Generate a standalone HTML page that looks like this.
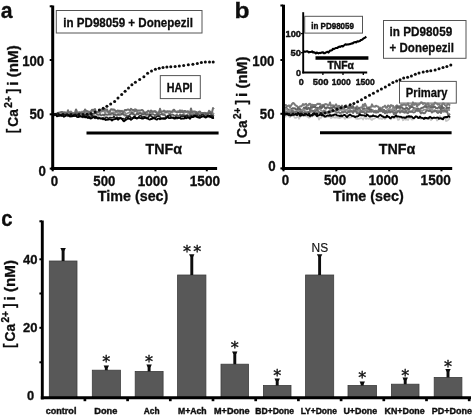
<!DOCTYPE html>
<html><head><meta charset="utf-8"><title>Figure</title>
<style>
html,body{margin:0;padding:0;background:#fff;}
svg{display:block;}
text{font-family:"Liberation Sans","DejaVu Sans",sans-serif;font-weight:bold;fill:#0c0c0c;stroke:#0c0c0c;stroke-width:0.3;}
.ax{stroke:#000;fill:none;stroke-linecap:butt;}
.box{fill:#fff;stroke:#555;stroke-width:1;}
.bar{fill:#595959;stroke:#3c3c3c;stroke-width:0.8;}
.err{stroke:#0a0a0a;stroke-width:2.9;fill:none;}
.tr{fill:none;stroke-linejoin:round;}
.sm{stroke-width:0.4;}
.ast{font-family:"DejaVu Sans","Liberation Sans",sans-serif;font-weight:normal;stroke-width:0.35;}
</style></head><body>
<svg width="472" height="415" viewBox="0 0 472 415">
<defs><filter id="soft" x="0" y="0" width="472" height="415" filterUnits="userSpaceOnUse"><feGaussianBlur stdDeviation="0.45"/></filter></defs>
<rect width="472" height="415" fill="#fff"/>
<g filter="url(#soft)">
<!-- panel a -->
<text x="0.8" y="17.6" font-size="22" text-anchor="start" textLength="11.8" lengthAdjust="spacingAndGlyphs" >a</text>
<g transform="translate(18,133.2) rotate(-90)"><text x="0" y="0" font-size="17" textLength="4.5" lengthAdjust="spacingAndGlyphs">[</text><text x="6.5" y="0" font-size="15.5" textLength="17.5" lengthAdjust="spacingAndGlyphs">Ca</text><text x="25.5" y="-6" font-size="10.5" textLength="11.5" lengthAdjust="spacingAndGlyphs">2+</text><text x="40" y="0" font-size="17" textLength="4.5" lengthAdjust="spacingAndGlyphs">]</text><text x="47.5" y="0" font-size="15.5" textLength="40.5" lengthAdjust="spacingAndGlyphs">i (nM)</text></g>
<polyline class="tr" stroke="#c2c2c2" stroke-width="1.6" points="53,115.1 54,115.9 55,115 56,113.8 57,113 58,113.5 59,112.9 60,112.2 61,113.3 62,113.8 63,114.4 64,113.5 65,113.8 66,113.9 67,112.7 68,113.9 69,114.3 70,116.4 71,115.5 72,114.7 73,115.6 74,115.1 75,115.5 76,114.6 77,114.6 78,115.4 79,115.5 80,115.1 81,113.8 82,114.5 83,114.6 84,115.2 85,115.1 86,115.8 87,115.2 88,115.1 89,115.5 90,114.2 91,114.1 92,114 93,116.2 94,115.5 95,115.8 96,115.9 97,115.2 98,113.7 99,115.2 100,114.8 101,115.6 102,114.2 103,114.3 104,115.8 105,116.7 106,114.8 107,113.8 108,114.5 109,115.5 110,115.5 111,115.6 112,114.6 113,115.4 114,116.3 115,115.4 116,114.1 117,114 118,115.3 119,113.8 120,114.5 121,114 122,114.6 123,114.7 124,115 125,116.5 126,116.3 127,117 128,116.1 129,115.3 130,115.7 131,113 132,114.2 133,114.9 134,114.1 135,115.2 136,114.8 137,113 138,114 139,113.9 140,114.2 141,114.7 142,116.2 143,115.9 144,115.7 145,115.9 146,114.1 147,115.9 148,114.8 149,115.5 150,114.5 151,114.2 152,114.5 153,116.7 154,116.7 155,115.6 156,115.3 157,114.4 158,115 159,114.8 160,115.8 161,114.5 162,114.7 163,114.4 164,114.4 165,115.6 166,115.7 167,116.2 168,116.9 169,117.2 170,115.2 171,115.8 172,114.1 173,114.8 174,116.8 175,116 176,115.4 177,115.6 178,115.5 179,115.5 180,114.8 181,116 182,116.5 183,115.7 184,115.8 185,116.1 186,116.6 187,116.2 188,116.3 189,115.5 190,114.4 191,114.4 192,115.7 193,116.3 194,115.8 195,115 196,115.3 197,116.7 198,117.1 199,115.5 200,115.3 201,113.9 202,113.5 203,114.5 204,114.9 205,115.9 206,116.6 207,116.6 208,117.1 209,115.6 210,114.4 211,115.2 212,117.6 213,116.7 214,114.9"/>
<polyline class="tr" stroke="#8c8c8c" stroke-width="1.7" points="53,114.1 54,115.1 55,113.7 56,114.7 57,114.1 58,113.8 59,115.5 60,114.9 61,114.4 62,114.8 63,115.3 64,114.6 65,114.8 66,113.5 67,113.3 68,113.2 69,112.4 70,111.8 71,111.4 72,112.4 73,112.9 74,113.1 75,113.5 76,112.4 77,113 78,113.6 79,114.3 80,113.2 81,113.1 82,111.5 83,112.1 84,110.9 85,110.9 86,113.1 87,111.3 88,113 89,113.5 90,113.1 91,113.6 92,113.9 93,114.4 94,113.6 95,112.8 96,112.4 97,111.9 98,112.4 99,112 100,113.5 101,111.6 102,111.3 103,111.3 104,110.3 105,113.3 106,111 107,111.7 108,111.8 109,113.8 110,111.6 111,113.2 112,112.4 113,112.5 114,112.1 115,113 116,111.9 117,112.3 118,112.9 119,114.4 120,111.5 121,113.5 122,114 123,112.9 124,113.1 125,112.5 126,114.1 127,113.6 128,113 129,112.6 130,112.5 131,112.5 132,111.8 133,114.1 134,111.7 135,109 136,110.7 137,111.6 138,112.5 139,112.4 140,112.4 141,112.8 142,113.6 143,112.7 144,112.3 145,114.2 146,113.9 147,112.4 148,114.5 149,114.3 150,112.9 151,111.7 152,112.4 153,111.8 154,111.2 155,110.8 156,111.2 157,112.9 158,112.3 159,111.2 160,112.5 161,112.6 162,113.3 163,114 164,113.1 165,112.7 166,112.6 167,111.6 168,112.7 169,113.8 170,113.4 171,112.8 172,112.5 173,111.9 174,111.5 175,111.8 176,111.5 177,111.7 178,110.8 179,112.1 180,112.5 181,111.6 182,110.2 183,111.5 184,113.2 185,112.4 186,112.2 187,112.1 188,113.1 189,112.2 190,113.5 191,113 192,113.8 193,113.4 194,113 195,111.7 196,111.8 197,112.2 198,113.2 199,113.3 200,112.6 201,113.2 202,114 203,113.4 204,112.8 205,112.6 206,113.5 207,113.7 208,112.6 209,113.1 210,112.6 211,112.2 212,113.7 213,114.1 214,112.9"/>
<polyline class="tr" stroke="#6e6e6e" stroke-width="2" points="53,115.6 54,114 55,114.1 56,114 57,114.5 58,112.8 59,112.8 60,112.5 61,112.1 62,112 63,112.3 64,112.6 65,112.2 66,113.2 67,112.8 68,110.3 69,112.9 70,112.8 71,112.4 72,113.1 73,113.4 74,113.3 75,112.5 76,109.5 77,111.7 78,113.6 79,112.2 80,112.3 81,112.6 82,112.9 83,112.5 84,113 85,109.5 86,110.7 87,111.2 88,111.2 89,112.9 90,111.5 91,111.5 92,109.7 93,110.9 94,109.7 95,109.1 96,112.3 97,112.4 98,111.8 99,111.6 100,110 101,109.6 102,110.7 103,108.9 104,110.2 105,109 106,110 107,109.4 108,111.7 109,112.1 110,111 111,109.2 112,109.3 113,109.9 114,109.4 115,110.3 116,111.4 117,111 118,110.4 119,111.3 120,110.7 121,111.4 122,110.8 123,112.1 124,111.1 125,109.9 126,110.4 127,109.9 128,109.4 129,109.9 130,110.9 131,108.8 132,109.7 133,110 134,110.1 135,111.1 136,109.6 137,110.7 138,110.4 139,110.6 140,110.4 141,110.2 142,109.9 143,110.6 144,112.4 145,112.4 146,112.2 147,111.9 148,110.8 149,111.2 150,112.7 151,110.5 152,111.2 153,111.8 154,111.4 155,111.7 156,112.3 157,113.4 158,113.2 159,113.3 160,108.8 161,112.2 162,111.5 163,111.3 164,110.6 165,111.2 166,112.2 167,111.3 168,111.3 169,111.6 170,111.2 171,111.9 172,111.6 173,110.3 174,109.7 175,111.1 176,111.7 177,112.5 178,112.1 179,112 180,110.3 181,112.2 182,111.1 183,112.4 184,111.1 185,110.9 186,111.6 187,111.5 188,111.2 189,112.5 190,113 191,108.5 192,112.4 193,111.6 194,111.6 195,111.6 196,112 197,112.9 198,112.6 199,111.8 200,111.6 201,113.2 202,113 203,113 204,113 205,113.3 206,113.1 207,113.9 208,113.9 209,110.8 210,111.5 211,114.7 212,112.5 213,108.1 214,109.1"/>
<polyline class="tr" stroke="#5c5c5c" stroke-width="1.5" points="53,114.4 54,114.8 55,114.2 56,114.6 57,115.2 58,115.1 59,116 60,114.5 61,114.5 62,113.9 63,113.6 64,113.8 65,114.3 66,114.7 67,114.9 68,116.4 69,116.1 70,114 71,114.4 72,113.9 73,113.8 74,115.1 75,114.6 76,113 77,113.9 78,113.9 79,113.3 80,113.1 81,113.3 82,113.8 83,113.8 84,114.1 85,115.7 86,114.4 87,113.8 88,113.9 89,115 90,114.2 91,115.4 92,113.9 93,113.3 94,113.8 95,113.5 96,113.4 97,114.3 98,114.9 99,114.7 100,114.4 101,115.4 102,115.2 103,114.6 104,115.4 105,114.2 106,114.4 107,114.9 108,114.7 109,114.1 110,114.5 111,114 112,113.8 113,113.3 114,114.9 115,114.2 116,115.2 117,115.1 118,114.5 119,115 120,114.9 121,114.8 122,113.5 123,114 124,114.9 125,115 126,115.5 127,116.1 128,115.6 129,116.5 130,114.3 131,114.2 132,112.3 133,114 134,114.3 135,115.6 136,114.7 137,113 138,114.7 139,113.5 140,113 141,113.6 142,114.5 143,114 144,114.4 145,112.9 146,115 147,114.6 148,114.6 149,115 150,114.8 151,114.8 152,113.9 153,114 154,114.6 155,115.3 156,114.7 157,114.6 158,114.8 159,115 160,114.9 161,114.4 162,114 163,115.1 164,115 165,114.7 166,117.2 167,116.5 168,116.1 169,115.4 170,114.1 171,115.1 172,114.7 173,114.6 174,115.3 175,115.6 176,115.2 177,114.8 178,116.2 179,115.8 180,114.3 181,114.9 182,114.8 183,114.6 184,115 185,114.9 186,116.2 187,115.5 188,115.1 189,115.7 190,114.6 191,115.3 192,114.8 193,115.5 194,114.3 195,114.7 196,113.3 197,113.5 198,114 199,114.6 200,116 201,116.6 202,114.5 203,113.9 204,115.1 205,115.1 206,113.7 207,114.4 208,113.5 209,113.3 210,112.9 211,113.4 212,115.7 213,115.3 214,114.8"/>
<polyline class="tr" stroke="#222" stroke-width="1.6" points="53,114.2 54,113.9 55,114.9 56,113.5 57,114.2 58,113.1 59,114.8 60,115.1 61,116 62,115.2 63,115.4 64,115.1 65,114.6 66,115 67,114.2 68,114.5 69,115.3 70,115.3 71,115 72,116.6 73,116 74,115.3 75,115.4 76,115.1 77,115 78,115 79,116.6 80,116.1 81,116 82,116.3 83,117.4 84,116.5 85,115.8 86,117.5 87,115.9 88,115.8 89,116.5 90,118 91,116.6 92,115 93,116.3 94,116.3 95,116.4 96,117.1 97,117.3 98,117.5 99,117.2 100,118.2 101,118.9 102,118.3 103,117.7 104,118.2 105,118.3 106,117.4 107,117.3 108,118.3 109,118 110,117.6 111,117.8 112,117.7 113,117.7 114,116.3 115,118.1 116,117.9 117,117.1 118,117.9 119,117.8 120,117.5 121,118.1 122,119.1 123,118.5 124,118.9 125,119.4 126,117.6 127,117 128,117.6 129,116.2 130,116.5 131,117.6 132,118.1 133,118 134,116.3 135,118.3 136,118.1 137,118.1 138,117.9 139,116.4 140,115.8 141,115.7 142,117.7 143,116.9 144,116.9 145,116.9 146,117.4 147,117.6 148,117.6 149,116.6 150,114.8 151,116.1 152,116.9 153,117.9 154,117.5 155,117 156,117.4 157,116.3 158,116.1 159,116 160,116.8 161,118.4 162,118.3 163,118.5 164,118 165,117.8 166,117.2 167,117 168,115.5 169,115.5 170,115.5 171,116.9 172,117.4 173,118 174,118.5 175,117.6 176,117.9 177,118.7 178,117.8 179,118 180,117.3 181,115.9 182,116.4 183,115.9 184,116.3 185,116.1 186,116.5 187,115 188,117.1 189,117.6 190,116.7 191,115.9 192,116.1 193,116.6 194,116.7 195,116.7 196,115.2 197,114.9 198,116.4 199,116.5 200,115.3 201,115.2 202,114.7 203,114.8 204,116.3 205,116.1 206,116.9 207,116.6 208,115.4 209,115.4 210,117.3 211,116.2 212,115.5 213,116.7 214,116.5"/>
<polyline class="tr" stroke="#000" stroke-width="1.8" points="53,115.9 54,114.7 55,114.7 56,115.2 57,116.3 58,116 59,114.8 60,115.5 61,114.9 62,116 63,115.7 64,116.8 65,116.2 66,115.4 67,114.7 68,115 69,115.7 70,116.5 71,116.4 72,115.7 73,116.2 74,115.2 75,116 76,115.6 77,116.8 78,117.1 79,116.9 80,116.1 81,116.6 82,116.8 83,116.4 84,116.2 85,117.3 86,116.9 87,117.3 88,118.1 89,116.9 90,118.3 91,118.6 92,117.9 93,117.4 94,117 95,118.2 96,116.8 97,118.2 98,118.6 99,118.3 100,118.3 101,118.4 102,118.6 103,119.4 104,118.8 105,119.7 106,120.1 107,119.5 108,119.8 109,119.2 110,119.3 111,119.5 112,120.5 113,119.8 114,119.3 115,119.2 116,118.9 117,118.3 118,119.7 119,118.9 120,118.5 121,118.2 122,118.8 123,120.5 124,121.4 125,120.6 126,119.8 127,119.2 128,118.3 129,118.9 130,118.7 131,119.9 132,119.1 133,118.2 134,117.3 135,116.9 136,118.1 137,118.6 138,117.9 139,117.3 140,118.2 141,118.2 142,118.6 143,118.6 144,118.2 145,117.4 146,118.1 147,118.5 148,118.7 149,119.3 150,119.6 151,118.8 152,119.1 153,117.6 154,118.6 155,118.6 156,119.3 157,119.6 158,118.6 159,118.6 160,119.3 161,118.7 162,118.7 163,118.3 164,118.9 165,118.9 166,118.3 167,117.6 168,116.7 169,118.2 170,118.1 171,117.8 172,117.8 173,117.5 174,118.3 175,118.7 176,117 177,117.5 178,117.8 179,117.7 180,117.8 181,118.8 182,118.4 183,118.7 184,118.7 185,117.1 186,118.3 187,117.9 188,117.4 189,117.8 190,118.8 191,117.4 192,116.8 193,117.1 194,115.9 195,115.7 196,116.3 197,117.1 198,117.3 199,117.6 200,117.9 201,117.1 202,116.7 203,116.6 204,116.5 205,117.3 206,117.6 207,115.9 208,116.7 209,116.1 210,115.8 211,117.1 212,117.8 213,118 214,117.8"/>
<circle cx="55" cy="114.6" r="1.5" fill="#0a0a0a"/><circle cx="59" cy="115" r="1.5" fill="#0a0a0a"/><circle cx="63" cy="114.6" r="1.5" fill="#0a0a0a"/><circle cx="67" cy="115" r="1.5" fill="#0a0a0a"/><circle cx="71" cy="114.6" r="1.5" fill="#0a0a0a"/><circle cx="75" cy="114.9" r="1.5" fill="#0a0a0a"/><circle cx="79" cy="114.5" r="1.5" fill="#0a0a0a"/><circle cx="83" cy="114.6" r="1.5" fill="#0a0a0a"/><circle cx="87" cy="114.2" r="1.5" fill="#0a0a0a"/><circle cx="91" cy="113.4" r="1.5" fill="#0a0a0a"/><circle cx="95.1" cy="111.9" r="1.5" fill="#0a0a0a"/><circle cx="99.3" cy="109.9" r="1.5" fill="#0a0a0a"/><circle cx="103.2" cy="108.2" r="1.5" fill="#0a0a0a"/><circle cx="106.9" cy="106.2" r="1.5" fill="#0a0a0a"/><circle cx="110.7" cy="104" r="1.5" fill="#0a0a0a"/><circle cx="114.6" cy="101.4" r="1.5" fill="#0a0a0a"/><circle cx="118" cy="98" r="1.5" fill="#0a0a0a"/><circle cx="121.7" cy="94.6" r="1.5" fill="#0a0a0a"/><circle cx="125.1" cy="91.3" r="1.5" fill="#0a0a0a"/><circle cx="128.5" cy="87.9" r="1.5" fill="#0a0a0a"/><circle cx="131.9" cy="84.8" r="1.5" fill="#0a0a0a"/><circle cx="135.4" cy="82.3" r="1.5" fill="#0a0a0a"/><circle cx="139.7" cy="79.4" r="1.5" fill="#0a0a0a"/><circle cx="143.9" cy="76.7" r="1.5" fill="#0a0a0a"/><circle cx="147.6" cy="73.2" r="1.5" fill="#0a0a0a"/><circle cx="151.5" cy="71" r="1.5" fill="#0a0a0a"/><circle cx="155.4" cy="69.3" r="1.5" fill="#0a0a0a"/><circle cx="159.2" cy="68.2" r="1.5" fill="#0a0a0a"/><circle cx="163" cy="67.5" r="1.5" fill="#0a0a0a"/><circle cx="166.9" cy="67" r="1.5" fill="#0a0a0a"/><circle cx="170.8" cy="66.8" r="1.5" fill="#0a0a0a"/><circle cx="175.1" cy="66.4" r="1.5" fill="#0a0a0a"/><circle cx="179.3" cy="65.9" r="1.5" fill="#0a0a0a"/><circle cx="183.7" cy="65.4" r="1.5" fill="#0a0a0a"/><circle cx="188.3" cy="64.7" r="1.5" fill="#0a0a0a"/><circle cx="192.9" cy="64.2" r="1.5" fill="#0a0a0a"/><circle cx="197.3" cy="63.4" r="1.5" fill="#0a0a0a"/><circle cx="201.4" cy="62.5" r="1.5" fill="#0a0a0a"/><circle cx="205.3" cy="62" r="1.5" fill="#0a0a0a"/><circle cx="209.5" cy="62" r="1.5" fill="#0a0a0a"/><circle cx="213.2" cy="62" r="1.5" fill="#0a0a0a"/>
<path class="ax" stroke-width="3" d="M52.7 5.5V170.1"/>
<path class="ax" stroke-width="3" d="M51.2 168.6H217.1"/>
<path class="ax" stroke-width="2" d="M49.7 6.3H52.5"/><path class="ax" stroke-width="2" d="M49.7 60H52.5"/><path class="ax" stroke-width="2" d="M49.7 114.3H52.5"/><path class="ax" stroke-width="2" d="M49.7 168.6H52.5"/><path class="ax" stroke-width="2" d="M52.7 168V171.3"/><path class="ax" stroke-width="2" d="M104 168V171.3"/><path class="ax" stroke-width="2" d="M155.5 168V171.3"/><path class="ax" stroke-width="2" d="M206.8 168V171.3"/>
<text x="44.2" y="66.1" font-size="14.2" text-anchor="end" textLength="22" lengthAdjust="spacingAndGlyphs" >100</text>
<text x="44.2" y="119.4" font-size="14.2" text-anchor="end" textLength="14.7" lengthAdjust="spacingAndGlyphs" >50</text>
<text x="45.9" y="176" font-size="14" text-anchor="end" textLength="7.4" lengthAdjust="spacingAndGlyphs" >0</text>
<text x="54.4" y="185.6" font-size="14" text-anchor="middle" textLength="7.4" lengthAdjust="spacingAndGlyphs" >0</text>
<text x="104.3" y="185.6" font-size="14" text-anchor="middle" textLength="22" lengthAdjust="spacingAndGlyphs" >500</text>
<text x="152.7" y="185.6" font-size="14" text-anchor="middle" textLength="30" lengthAdjust="spacingAndGlyphs" >1000</text>
<text x="204.9" y="185.6" font-size="14" text-anchor="middle" textLength="30.2" lengthAdjust="spacingAndGlyphs" >1500</text>
<text x="133.1" y="201" font-size="15.5" text-anchor="middle" textLength="70.5" lengthAdjust="spacingAndGlyphs" >Time (sec)</text>
<path class="ax" stroke-width="3" d="M86.5 133H218.6"/>
<text x="163.8" y="153.7" font-size="15" text-anchor="middle" textLength="36.5" lengthAdjust="spacingAndGlyphs" >TNFα</text>
<rect class="box" x="56.3" y="10.5" width="145.7" height="22.5"/>
<text x="63.3" y="26.5" font-size="13" text-anchor="start" textLength="129.7" lengthAdjust="spacingAndGlyphs" >in PD98059 + Donepezil</text>
<rect class="box" x="160.3" y="75.6" width="40" height="23"/>
<text x="179.7" y="91.5" font-size="12" text-anchor="middle" textLength="25.7" lengthAdjust="spacingAndGlyphs" >HAPI</text>
<!-- panel b -->
<text x="234.4" y="17.8" font-size="22.5" text-anchor="start" textLength="15" lengthAdjust="spacingAndGlyphs" >b</text>
<g transform="translate(247.4,144.5) rotate(-90)"><text x="0" y="0" font-size="17" textLength="4.5" lengthAdjust="spacingAndGlyphs">[</text><text x="6.5" y="0" font-size="15.5" textLength="17.5" lengthAdjust="spacingAndGlyphs">Ca</text><text x="25.5" y="-6" font-size="10.5" textLength="11.5" lengthAdjust="spacingAndGlyphs">2+</text><text x="40" y="0" font-size="17" textLength="4.5" lengthAdjust="spacingAndGlyphs">]</text><text x="47.5" y="0" font-size="15.5" textLength="40.5" lengthAdjust="spacingAndGlyphs">i (nM)</text></g>
<rect class="box" x="399.5" y="81.4" width="56.8" height="21.7"/>
<polyline class="tr" stroke="#c6c6c6" stroke-width="1.7" points="283,114.8 284,115.8 285,116.9 286,115.9 287,114.7 288,115.4 289,116.3 290,117.2 291,115.5 292,114.6 293,116.1 294,116.6 295,117.9 296,117.9 297,116.9 298,116.3 299,118.8 300,117.1 301,115.9 302,115 303,115.8 304,116.3 305,116 306,116.1 307,116.5 308,117.1 309,117.8 310,117.3 311,115.1 312,116.5 313,115.1 314,115.7 315,114.7 316,115.7 317,115.4 318,116.3 319,119.6 320,117.9 321,118 322,116 323,116.1 324,117 325,116.7 326,117.1 327,117 328,115.9 329,116.9 330,116 331,118.2 332,116.9 333,117.5 334,117.1 335,117.9 336,116.7 337,117.8 338,117.2 339,118.2 340,118.1 341,117.6 342,116.5 343,117.5 344,117.6 345,118.9 346,117.5 347,117.8 348,117.8 349,117.7 350,117.5 351,117.5 352,116.7 353,115.9 354,116.2 355,117.3 356,118.7 357,118.8 358,118.9 359,118.7 360,118.6 361,118 362,118.3 363,119.5 364,117.9 365,116.9 366,119 367,118.3 368,118.7 369,118.8 370,116.9 371,119.5 372,120.1 373,118.8 374,118.8 375,118.2 376,116.9 377,117.1 378,117.7 379,118.7 380,118.7 381,118.1 382,119.1 383,117.5 384,118.3 385,119 386,118 387,116 388,116 389,117.2 390,118 391,119.3 392,117.5 393,117.6 394,118.3 395,117.9 396,115.5 397,117.5 398,119.9 399,119.7 400,117.8 401,117.4 402,117.9 403,120.3 404,119.6 405,118.8 406,119.8 407,118.7 408,120.1 409,118.3 410,117.7 411,118.5 412,119.6 413,119.4 414,118.9 415,116.7 416,116.8 417,116.9 418,117.1 419,118.2 420,117.9 421,118.8 422,118.5 423,118 424,118.2 425,118.6 426,119.3 427,118.2 428,118 429,116.9 430,119.2 431,120.1 432,119 433,118.2 434,117.1 435,118 436,118.4 437,120.5 438,119.6 439,118.2 440,116 441,118.7 442,118.8 443,117.1 444,118 445,116.8 446,121.1 447,120.8 448,120.1 449,119.1 450,116.8"/>
<polyline class="tr" stroke="#7a7a7a" stroke-width="2" points="283,104.4 284,105.5 285,105.3 286,105 287,106.4 288,106 289,105.4 290,107.3 291,105.6 292,103.9 293,103 294,103.4 295,104.8 296,105.6 297,106.2 298,107.2 299,107.4 300,106.3 301,106.5 302,105.8 303,104.1 304,104.9 305,104.3 306,103.8 307,105.9 308,105.5 309,104 310,103.7 311,106.3 312,104.6 313,105 314,105.1 315,105 316,105.1 317,104.1 318,103.7 319,103.9 320,103.8 321,105.2 322,106.7 323,104.7 324,105.5 325,104.2 326,104.1 327,104.5 328,105.2 329,105 330,102.5 331,105.9 332,105.6 333,105.2 334,106.5 335,105.7 336,104.4 337,106 338,106.7 339,105.7 340,107.1 341,107.2 342,105.6 343,108.1 344,107.6 345,105.8 346,106.8 347,106.9 348,107.9 349,105.8 350,107.5 351,108.1 352,108.1 353,108.1 354,108.8 355,108.5 356,107.7 357,106.3 358,107.8 359,108.3 360,107.8 361,107.4 362,107.9 363,104.5 364,106.1 365,103.7 366,105.7 367,107.5 368,109.2 369,107.3 370,107.5 371,107 372,104.4 373,106.5 374,106.6 375,106.7 376,105.7 377,106.2 378,106.5 379,108 380,107.6 381,110.9 382,108 383,106.9 384,106.6 385,105.6 386,107.7 387,107.7 388,105.5 389,106 390,107.4 391,105.1 392,105.8 393,105.7 394,108.4 395,107.5 396,106.1 397,105.3 398,107.6 399,106 400,108.3 401,105 402,105.1 403,105 404,104.4 405,104.7 406,105.8 407,104.7 408,103.4 409,105.8 410,107.1 411,105.2 412,105.5 413,102.4 414,105 415,103.5 416,103.7 417,106.8 418,104.4 419,104.7 420,103.6 421,102.3 422,102.4 423,104.1 424,103.1 425,103.4 426,105 427,104.8 428,103.4 429,105.9 430,105.4 431,106.7 432,104.5 433,106.6 434,104.1 435,102.6 436,103.4 437,103.8 438,104.7 439,104.2 440,105.3 441,106.5 442,104.9 443,103.4 444,103.8 445,105.3 446,106 447,105 448,103.8 449,104.4 450,105.7"/>
<polyline class="tr" stroke="#646464" stroke-width="2" points="283,109.2 284,110.8 285,109.1 286,107.3 287,108.6 288,109.6 289,109.8 290,110 291,109.4 292,108.6 293,108.1 294,108.4 295,108.3 296,109.6 297,109.9 298,108 299,109.2 300,109 301,110 302,110.8 303,110.2 304,107.5 305,108.7 306,107 307,109.4 308,108.1 309,108 310,110.1 311,107.2 312,107.8 313,106.8 314,106.9 315,106.7 316,108.1 317,107.7 318,108.1 319,108.6 320,106.3 321,108.5 322,107.8 323,106 324,106.2 325,107.9 326,108.7 327,107.3 328,107.5 329,107.8 330,108.7 331,107.9 332,108.7 333,107.1 334,106.6 335,107.8 336,108.4 337,107.9 338,108.4 339,108.2 340,108.7 341,109.4 342,109 343,109.2 344,108.1 345,107.4 346,105.3 347,107.2 348,107.7 349,108.6 350,106.4 351,107 352,107.2 353,106 354,108.4 355,109.8 356,107.9 357,108.9 358,110.7 359,108.5 360,109.9 361,111.2 362,112.1 363,109.1 364,108.2 365,109.1 366,110.6 367,108.7 368,108.5 369,108 370,110.1 371,109.4 372,110.2 373,110.7 374,111.5 375,111 376,110.8 377,111.5 378,111.1 379,109.1 380,109 381,110.4 382,110.2 383,109.6 384,109.9 385,113.3 386,111.2 387,110.8 388,110.6 389,109.7 390,110.8 391,110.9 392,110.4 393,108.3 394,110.1 395,110.3 396,109.5 397,106.3 398,107.6 399,106.9 400,107.6 401,107.6 402,107.2 403,109 404,108.8 405,109.8 406,107.9 407,107.9 408,109.5 409,109.1 410,107.8 411,107 412,106.9 413,107.4 414,108.4 415,108.3 416,108.9 417,109.2 418,108.6 419,109.5 420,109.3 421,108.3 422,107.8 423,107.8 424,107 425,106 426,107 427,106.8 428,107.9 429,107.1 430,107.5 431,107.8 432,107.2 433,107.6 434,106.9 435,106.8 436,108.1 437,108.2 438,107.9 439,106.9 440,108 441,109.9 442,106.3 443,108.1 444,108 445,108.9 446,109.4 447,107.3 448,109.3 449,107.7 450,107.3"/>
<polyline class="tr" stroke="#909090" stroke-width="1.8" points="283,112.2 284,112.5 285,110.3 286,108.8 287,109.9 288,111.2 289,110.9 290,109.5 291,109.8 292,111.8 293,110 294,111.5 295,111.7 296,111.7 297,112 298,110.9 299,110.8 300,112.6 301,111.3 302,110.7 303,109.4 304,109.8 305,111.1 306,112.2 307,112.1 308,112 309,111.9 310,111.7 311,112.2 312,111.3 313,112.1 314,111.3 315,109.5 316,109 317,109.8 318,109.9 319,109.2 320,109.3 321,110.3 322,111 323,111.7 324,110.3 325,110.9 326,111.8 327,111.6 328,112.8 329,111.2 330,110.9 331,111 332,110.4 333,110.5 334,110.8 335,110.7 336,110.2 337,110 338,110.3 339,109 340,110.1 341,109.4 342,109.8 343,109.2 344,110.1 345,110 346,110.1 347,109.7 348,110.3 349,112 350,109.5 351,110.6 352,110.8 353,110.3 354,109.2 355,111.5 356,111.2 357,111.8 358,110.7 359,109.9 360,111.3 361,111.6 362,110.7 363,110.4 364,111.1 365,110 366,109.5 367,110 368,111.2 369,111.6 370,111.2 371,112.1 372,111 373,110.3 374,112.6 375,110.9 376,111.2 377,111.3 378,111 379,110.9 380,111.3 381,111.3 382,110.3 383,110.4 384,111.7 385,111.7 386,110.6 387,110.5 388,109.5 389,108.8 390,109.2 391,111.3 392,110.2 393,108.4 394,109.4 395,109.3 396,110.6 397,111.6 398,110.6 399,110.6 400,109.6 401,111.1 402,110 403,110.2 404,112.5 405,110.4 406,110.5 407,110.3 408,110.7 409,110.9 410,112 411,111.5 412,111.4 413,109.6 414,110.3 415,109 416,110.8 417,110.4 418,111.2 419,110.2 420,110.4 421,110.4 422,110.8 423,110.4 424,109.7 425,109.6 426,109.3 427,108.9 428,108.4 429,108 430,111 431,109.8 432,108.9 433,110.5 434,110.6 435,110.2 436,111.2 437,112.4 438,110.3 439,111.5 440,111.3 441,111.7 442,110.3 443,111.8 444,111.9 445,108.4 446,110.5 447,111.5 448,109.4 449,110.1 450,109.9"/>
<polyline class="tr" stroke="#6e6e6e" stroke-width="1.9" points="283,112.6 284,112.5 285,112.5 286,111.9 287,112.4 288,112.4 289,113.4 290,112 291,114.6 292,110.5 293,111.6 294,112.9 295,112.4 296,111.7 297,112 298,112.9 299,113.8 300,111.6 301,112.2 302,111.7 303,113 304,112.2 305,112.4 306,113.4 307,112.5 308,112.6 309,111.7 310,111.7 311,110.1 312,110.5 313,110.9 314,110.9 315,113.6 316,110.7 317,109.4 318,111.1 319,112.2 320,112.3 321,113.3 322,114.6 323,112.8 324,111.1 325,111.5 326,112.9 327,112.9 328,112.2 329,112.4 330,112.5 331,110.6 332,111.8 333,111.2 334,111.4 335,111.3 336,111.8 337,112.8 338,112.2 339,112.2 340,113 341,112.9 342,111.8 343,112.6 344,111.9 345,111.7 346,112.1 347,113.4 348,111.8 349,111.5 350,111.9 351,111.1 352,111.7 353,113 354,110.7 355,111.4 356,111 357,113.4 358,113.2 359,113.1 360,112.3 361,111.1 362,111.6 363,112.1 364,112 365,113.6 366,113.4 367,111.7 368,111.4 369,111.9 370,110.8 371,111.2 372,111 373,111.6 374,111.9 375,111.3 376,112.8 377,111.7 378,112.4 379,111.1 380,110.6 381,110.7 382,110.9 383,112.2 384,110.5 385,112.8 386,111.1 387,112.9 388,112.4 389,111.6 390,112.5 391,111.6 392,111.7 393,111.8 394,114.5 395,112 396,113.7 397,112.3 398,111.3 399,111.1 400,112.6 401,111.9 402,111 403,112 404,112.1 405,112.8 406,111.1 407,112.8 408,113.3 409,111.7 410,111.4 411,111.9 412,111.5 413,112.3 414,112.5 415,112 416,110.7 417,109.3 418,110.8 419,110 420,111.9 421,113.4 422,112.5 423,112.8 424,113.3 425,113.1 426,111.2 427,110.4 428,110.5 429,111.1 430,110.5 431,111.2 432,112.6 433,111.6 434,111.5 435,110.6 436,110.9 437,112.1 438,113 439,112.3 440,111.1 441,113.1 442,110.2 443,110.5 444,110.3 445,110.9 446,111.7 447,111.1 448,114.6 449,114.8 450,113.7"/>
<polyline class="tr" stroke="#000" stroke-width="1.9" points="283,113.7 284,114.6 285,113.7 286,114.4 287,113.5 288,114.5 289,114.4 290,115.4 291,115.5 292,114.9 293,114.5 294,114.8 295,114.6 296,113.9 297,114.7 298,112.9 299,113.8 300,115.8 301,115.5 302,114.1 303,115.2 304,115.1 305,114.5 306,114.2 307,114.6 308,115.3 309,115 310,116.2 311,115 312,115.6 313,114.1 314,113.2 315,114.1 316,114.8 317,116.3 318,115.4 319,115.4 320,114.4 321,114.8 322,115.4 323,115 324,115.9 325,116.6 326,116.3 327,115.7 328,115.4 329,115.8 330,114.8 331,115.9 332,115.2 333,115.5 334,114.7 335,114.5 336,114.5 337,115.4 338,115.6 339,115.6 340,116.3 341,115.3 342,116.2 343,115.5 344,115 345,115 346,116.2 347,117.2 348,116 349,115.2 350,114.4 351,115.2 352,115.9 353,116.2 354,116.3 355,117.1 356,116.5 357,116.5 358,116.1 359,115.4 360,114.2 361,115.3 362,115.3 363,115.4 364,115.4 365,115.9 366,116.2 367,114.6 368,115.2 369,116.1 370,116.5 371,116.2 372,116.4 373,115.3 374,116.1 375,116.1 376,116.3 377,116.9 378,116.8 379,115.8 380,114.8 381,115.4 382,116.1 383,116.5 384,117.3 385,117.2 386,117.2 387,115.6 388,116.8 389,116.9 390,118.3 391,118 392,116.8 393,116.9 394,117.4 395,116.4 396,115.5 397,116.6 398,116.4 399,116.6 400,116.9 401,116.8 402,117.5 403,117.5 404,117.5 405,117.9 406,117.5 407,116.4 408,116.9 409,116.1 410,116.9 411,116.3 412,116.8 413,118 414,118.1 415,117.2 416,116.3 417,116.6 418,117.8 419,118 420,116.6 421,117.7 422,117.9 423,118.2 424,118.9 425,117.6 426,118 427,118 428,118.6 429,117.9 430,116.8 431,117.5 432,118.4 433,117.9 434,117.7 435,117.9 436,117.8 437,117.6 438,117.5 439,118.8 440,118.1 441,118.2 442,118.9 443,119.3 444,117.4 445,117.3 446,116.9 447,117.5 448,116.3 449,116.3 450,117.3"/>
<circle cx="285" cy="114" r="1.5" fill="#0a0a0a"/><circle cx="289" cy="114.4" r="1.5" fill="#0a0a0a"/><circle cx="293" cy="114" r="1.5" fill="#0a0a0a"/><circle cx="297" cy="114.4" r="1.5" fill="#0a0a0a"/><circle cx="301" cy="114" r="1.5" fill="#0a0a0a"/><circle cx="305" cy="114.3" r="1.5" fill="#0a0a0a"/><circle cx="309" cy="114" r="1.5" fill="#0a0a0a"/><circle cx="313" cy="114.2" r="1.5" fill="#0a0a0a"/><circle cx="317" cy="113.8" r="1.5" fill="#0a0a0a"/><circle cx="321" cy="113.5" r="1.5" fill="#0a0a0a"/><circle cx="325" cy="113" r="1.5" fill="#0a0a0a"/><circle cx="329" cy="112" r="1.5" fill="#0a0a0a"/><circle cx="333" cy="110.6" r="1.5" fill="#0a0a0a"/><circle cx="337" cy="109.2" r="1.5" fill="#0a0a0a"/><circle cx="341" cy="107.8" r="1.5" fill="#0a0a0a"/><circle cx="345.4" cy="106.5" r="1.5" fill="#0a0a0a"/><circle cx="350.2" cy="104.8" r="1.5" fill="#0a0a0a"/><circle cx="353.9" cy="103.5" r="1.5" fill="#0a0a0a"/><circle cx="357.6" cy="101.8" r="1.5" fill="#0a0a0a"/><circle cx="361.5" cy="99.7" r="1.5" fill="#0a0a0a"/><circle cx="365.4" cy="97.5" r="1.5" fill="#0a0a0a"/><circle cx="369.5" cy="95.3" r="1.5" fill="#0a0a0a"/><circle cx="373.4" cy="93.3" r="1.5" fill="#0a0a0a"/><circle cx="377.6" cy="91.1" r="1.5" fill="#0a0a0a"/><circle cx="381.4" cy="89" r="1.5" fill="#0a0a0a"/><circle cx="385.3" cy="87" r="1.5" fill="#0a0a0a"/><circle cx="389.2" cy="84.8" r="1.5" fill="#0a0a0a"/><circle cx="392.9" cy="82.6" r="1.5" fill="#0a0a0a"/><circle cx="396.6" cy="81.1" r="1.5" fill="#0a0a0a"/><circle cx="400" cy="79.7" r="1.5" fill="#0a0a0a"/><circle cx="403.7" cy="78" r="1.5" fill="#0a0a0a"/><circle cx="407.6" cy="77.2" r="1.5" fill="#0a0a0a"/><circle cx="411.4" cy="76" r="1.5" fill="#0a0a0a"/><circle cx="415.3" cy="74.3" r="1.5" fill="#0a0a0a"/><circle cx="419" cy="72.9" r="1.5" fill="#0a0a0a"/><circle cx="423.2" cy="72.1" r="1.5" fill="#0a0a0a"/><circle cx="427.1" cy="71.3" r="1.5" fill="#0a0a0a"/><circle cx="430.8" cy="70.7" r="1.5" fill="#0a0a0a"/><circle cx="435.1" cy="69.9" r="1.5" fill="#0a0a0a"/><circle cx="439" cy="68.7" r="1.5" fill="#0a0a0a"/><circle cx="443" cy="67.5" r="1.5" fill="#0a0a0a"/><circle cx="446.9" cy="66.5" r="1.5" fill="#0a0a0a"/><circle cx="450.8" cy="65" r="1.5" fill="#0a0a0a"/>
<path class="ax" stroke-width="3" d="M283.5 4.7V169.9"/>
<path class="ax" stroke-width="3" d="M281.8 168.4H452.2"/>
<path class="ax" stroke-width="2" d="M280.4 5.5H283.2"/><path class="ax" stroke-width="2" d="M280.4 60H283.2"/><path class="ax" stroke-width="2" d="M280.4 113.8H283.2"/><path class="ax" stroke-width="2" d="M280.4 168.4H283.2"/><path class="ax" stroke-width="2" d="M283.5 168V171.3"/><path class="ax" stroke-width="2" d="M336.3 168V171.3"/><path class="ax" stroke-width="2" d="M389.2 168V171.3"/><path class="ax" stroke-width="2" d="M441.5 168V171.3"/>
<text x="274.3" y="65.7" font-size="14.2" text-anchor="end" textLength="22" lengthAdjust="spacingAndGlyphs" >100</text>
<text x="274.5" y="118.6" font-size="14.2" text-anchor="end" textLength="14.7" lengthAdjust="spacingAndGlyphs" >50</text>
<text x="275.6" y="171.2" font-size="14" text-anchor="end" textLength="7.4" lengthAdjust="spacingAndGlyphs" >0</text>
<text x="285.4" y="185.4" font-size="14" text-anchor="middle" textLength="7.4" lengthAdjust="spacingAndGlyphs" >0</text>
<text x="335.1" y="185.4" font-size="14" text-anchor="middle" textLength="22.3" lengthAdjust="spacingAndGlyphs" >500</text>
<text x="383.5" y="185.4" font-size="14" text-anchor="middle" textLength="30" lengthAdjust="spacingAndGlyphs" >1000</text>
<text x="435.7" y="185.4" font-size="14" text-anchor="middle" textLength="30.2" lengthAdjust="spacingAndGlyphs" >1500</text>
<text x="368.4" y="201" font-size="15.5" text-anchor="middle" textLength="70.8" lengthAdjust="spacingAndGlyphs" >Time (sec)</text>
<path class="ax" stroke-width="3" d="M320 132.7H451.6"/>
<text x="397" y="153.5" font-size="15" text-anchor="middle" textLength="36.5" lengthAdjust="spacingAndGlyphs" >TNFα</text>
<rect class="box" x="383.5" y="20.5" width="82.5" height="37.8"/>
<text x="389.6" y="36.2" font-size="13.3" text-anchor="start" textLength="62.6" lengthAdjust="spacingAndGlyphs" >in PD98059</text>
<text x="389.6" y="52.4" font-size="13.3" text-anchor="start" textLength="64.4" lengthAdjust="spacingAndGlyphs" >+ Donepezil</text>
<text x="426.7" y="97.4" font-size="12.5" text-anchor="middle" textLength="41.7" lengthAdjust="spacingAndGlyphs" >Primary</text>
<path class="ax" stroke-width="1.9" d="M303.2 12.2V73.4"/>
<path class="ax" stroke-width="1.9" d="M302.3 72.5H367.2"/>
<path class="ax" stroke-width="1.3" d="M301 33.6H303.2"/><path class="ax" stroke-width="1.3" d="M301 52.7H303.2"/><path class="ax" stroke-width="1.3" d="M322.9 72.5V75"/><path class="ax" stroke-width="1.3" d="M343 72.5V75"/><path class="ax" stroke-width="1.3" d="M363.3 72.5V75"/>
<text x="301" y="37.3" font-size="9" text-anchor="end" textLength="15.5" lengthAdjust="spacingAndGlyphs" class="sm">100</text>
<text x="301" y="55.8" font-size="9" text-anchor="end" textLength="10.5" lengthAdjust="spacingAndGlyphs" class="sm">50</text>
<text x="301" y="76.3" font-size="9" text-anchor="end" textLength="5" lengthAdjust="spacingAndGlyphs" class="sm">0</text>
<text x="301.3" y="85.1" font-size="9" text-anchor="middle" textLength="5" lengthAdjust="spacingAndGlyphs" class="sm">0</text>
<text x="320.6" y="85.1" font-size="9" text-anchor="middle" textLength="15.8" lengthAdjust="spacingAndGlyphs" class="sm">500</text>
<text x="341.3" y="85.1" font-size="9" text-anchor="middle" textLength="19" lengthAdjust="spacingAndGlyphs" class="sm">1000</text>
<text x="365.3" y="85.1" font-size="9" text-anchor="middle" textLength="19" lengthAdjust="spacingAndGlyphs" class="sm">1500</text>
<rect class="box" x="304.7" y="16.3" width="57.8" height="16.8"/>
<text x="311.2" y="28.5" font-size="9" text-anchor="start" textLength="42.8" lengthAdjust="spacingAndGlyphs" class="sm">in PD98059</text>
<polyline class="tr" stroke="#000" stroke-width="2.1" points="303.2,51 304.1,51.4 305,51.9 305.9,51.5 306.8,51.4 307.7,51.3 308.6,52.4 309.5,52.1 310.4,52 311.3,51.9 312.2,51.3 313.1,52.5 314,52.2 314.9,52.6 315.8,53.4 316.7,52.6 317.6,52.8 318.5,53.4 319.4,52.9 320.3,53.1 321.2,52.6 322.1,52.6 323,52.2 323.9,53.2 324.8,53.3 325.7,52.4 326.6,52.2 327.5,51.7 328.4,52.6 329.3,51.5 330.2,50.5 331.1,50.5 332,50.3 332.9,48.8 333.8,49.1 334.7,48.6 335.6,48 336.5,48 337.4,47.9 338.3,47.1 339.2,46.6 340.1,46.9 341,46.3 341.9,46.1 342.8,46.5 343.7,45.6 344.6,45.1 345.5,44.2 346.4,44.7 347.3,44.5 348.2,44.4 349.1,44.2 350,44.1 350.9,43.7 351.8,43.4 352.7,43.4 353.6,42.6 354.5,42.3 355.4,42.1 356.3,42.4 357.2,41.3 358.1,41.6 359,41.2 359.9,41 360.8,40 361.7,39.9 362.6,39.3 363.5,38.4 364.4,38.1 365.3,37.5 366.2,36.5"/>
<path class="ax" stroke-width="3.5" d="M315.5 58.1H368.4"/>
<text x="340.6" y="69.4" font-size="10.5" text-anchor="middle" textLength="26.3" lengthAdjust="spacingAndGlyphs" class="sm">TNFα</text>
<!-- panel c -->
<text x="1.3" y="226" font-size="22" text-anchor="start" textLength="11.3" lengthAdjust="spacingAndGlyphs" >c</text>
<g transform="translate(14.8,348) rotate(-90)"><text x="0" y="0" font-size="17" textLength="4.5" lengthAdjust="spacingAndGlyphs">[</text><text x="6.5" y="0" font-size="15.5" textLength="17.5" lengthAdjust="spacingAndGlyphs">Ca</text><text x="25.5" y="-6" font-size="10.5" textLength="11.5" lengthAdjust="spacingAndGlyphs">2+</text><text x="40" y="0" font-size="17" textLength="4.5" lengthAdjust="spacingAndGlyphs">]</text><text x="47.5" y="0" font-size="15.5" textLength="40.5" lengthAdjust="spacingAndGlyphs">i (nM)</text></g>
<rect class="bar" x="49.3" y="261" width="27.7" height="136"/><path class="err" d="M63.1 261V249"/><path d="M60.4 248.1H65.8L64.5 250.7H61.8Z" fill="#0a0a0a"/>
<text x="61.1" y="413.5" font-size="9" text-anchor="middle" textLength="30.6" lengthAdjust="spacingAndGlyphs" class="sm">control</text>
<rect class="bar" x="92.3" y="370.2" width="28.1" height="26.8"/><path class="err" d="M106.3 370.2V366.3"/><path d="M103.6 365.4H109L107.8 368H104.9Z" fill="#0a0a0a"/>
<text x="105.8" y="413.5" font-size="9" text-anchor="middle" textLength="23" lengthAdjust="spacingAndGlyphs" class="sm">Done</text>
<text x="106.3" y="366.8" font-size="16" text-anchor="middle" class="ast">*</text>
<rect class="bar" x="135.2" y="371.4" width="27.9" height="25.6"/><path class="err" d="M149.1 371.4V365.5"/><path d="M146.4 364.6H151.8L150.5 367.2H147.7Z" fill="#0a0a0a"/>
<text x="151.7" y="413.5" font-size="9" text-anchor="middle" textLength="15.8" lengthAdjust="spacingAndGlyphs" class="sm">Ach</text>
<text x="149.1" y="366.8" font-size="16" text-anchor="middle" class="ast">*</text>
<rect class="bar" x="177.6" y="275" width="28.3" height="122"/><path class="err" d="M191.8 275V255.1"/><path d="M189.1 254.2H194.4L193.2 256.8H190.3Z" fill="#0a0a0a"/>
<text x="192.3" y="413.5" font-size="9" text-anchor="middle" textLength="28.8" lengthAdjust="spacingAndGlyphs" class="sm">M+Ach</text>
<text x="187.1" y="256.9" font-size="16" text-anchor="middle" class="ast">*</text>
<text x="197.2" y="256.9" font-size="16" text-anchor="middle" class="ast">*</text>
<rect class="bar" x="221" y="364.2" width="27.5" height="32.8"/><path class="err" d="M234.8 364.2V352.3"/><path d="M232.1 351.4H237.4L236.2 354H233.3Z" fill="#0a0a0a"/>
<text x="231.8" y="413.5" font-size="9" text-anchor="middle" textLength="35.5" lengthAdjust="spacingAndGlyphs" class="sm">M+Done</text>
<text x="234.8" y="353.4" font-size="16" text-anchor="middle" class="ast">*</text>
<rect class="bar" x="263.4" y="385.5" width="27.6" height="11.5"/><path class="err" d="M277.2 385.5V379.3"/><path d="M274.5 378.4H279.9L278.6 381H275.8Z" fill="#0a0a0a"/>
<text x="274.7" y="413.5" font-size="9" text-anchor="middle" textLength="38.8" lengthAdjust="spacingAndGlyphs" class="sm">BD+Done</text>
<text x="277.2" y="380.6" font-size="16" text-anchor="middle" class="ast">*</text>
<rect class="bar" x="305.6" y="275" width="28.1" height="122"/><path class="err" d="M319.6 275V255.1"/><path d="M316.9 254.2H322.3L321 256.8H318.2Z" fill="#0a0a0a"/>
<text x="318.8" y="413.5" font-size="9" text-anchor="middle" textLength="36.2" lengthAdjust="spacingAndGlyphs" class="sm">LY+Done</text>
<text x="319.9" y="251.8" font-size="13.5" text-anchor="middle" textLength="16.6" lengthAdjust="spacingAndGlyphs" style="font-weight:normal;stroke-width:0.15">NS</text>
<rect class="bar" x="348" y="385.5" width="28.5" height="11.5"/><path class="err" d="M362.2 385.5V382.5"/><path d="M359.6 381.6H364.9L363.6 384.2H360.9Z" fill="#0a0a0a"/>
<text x="360.3" y="413.5" font-size="9" text-anchor="middle" textLength="33.8" lengthAdjust="spacingAndGlyphs" class="sm">U+Done</text>
<text x="362.2" y="382.9" font-size="16" text-anchor="middle" class="ast">*</text>
<rect class="bar" x="391.4" y="384.2" width="27.6" height="12.8"/><path class="err" d="M405.2 384.2V378.5"/><path d="M402.5 377.6H407.9L406.6 380.2H403.8Z" fill="#0a0a0a"/>
<text x="404.6" y="413.5" font-size="9" text-anchor="middle" textLength="40" lengthAdjust="spacingAndGlyphs" class="sm">KN+Done</text>
<text x="405.2" y="380.6" font-size="16" text-anchor="middle" class="ast">*</text>
<rect class="bar" x="434.2" y="377.4" width="27.7" height="19.6"/><path class="err" d="M448 377.4V369.8"/><path d="M445.3 368.9H450.7L449.4 371.5H446.6Z" fill="#0a0a0a"/>
<text x="451.9" y="413.5" font-size="9" text-anchor="middle" textLength="40.2" lengthAdjust="spacingAndGlyphs" class="sm">PD+Done</text>
<text x="448" y="371.6" font-size="16" text-anchor="middle" class="ast">*</text>
<path class="ax" stroke-width="2.9" d="M42.3 220.5V399.4"/>
<path class="ax" stroke-width="3" d="M40.8 397.8H471"/>
<path class="ax" stroke-width="2" d="M39.4 221.3H42"/><path class="ax" stroke-width="2" d="M39.4 259.3H42"/><path class="ax" stroke-width="2" d="M39.4 293.5H42"/><path class="ax" stroke-width="2" d="M39.4 327.8H42"/><path class="ax" stroke-width="2" d="M39.4 362.3H42"/><path class="ax" stroke-width="2.7" d="M84.9 397V401.2"/><path class="ax" stroke-width="2.7" d="M127.6 397V401.2"/><path class="ax" stroke-width="2.7" d="M170.3 397V401.2"/><path class="ax" stroke-width="2.7" d="M213 397V401.2"/><path class="ax" stroke-width="2.7" d="M255.7 397V401.2"/><path class="ax" stroke-width="2.7" d="M298.4 397V401.2"/><path class="ax" stroke-width="2.7" d="M341.1 397V401.2"/><path class="ax" stroke-width="2.7" d="M383.8 397V401.2"/><path class="ax" stroke-width="2.7" d="M426.5 397V401.2"/><path class="ax" stroke-width="2.7" d="M469.2 397V401.2"/>
<text x="37.5" y="263.6" font-size="13" text-anchor="end" textLength="14.5" lengthAdjust="spacingAndGlyphs" >40</text>
<text x="37.5" y="332.2" font-size="13" text-anchor="end" textLength="14.5" lengthAdjust="spacingAndGlyphs" >20</text>
<text x="34.3" y="400" font-size="13.5" text-anchor="end" textLength="7.2" lengthAdjust="spacingAndGlyphs" >0</text>
</g>
</svg>
</body></html>
